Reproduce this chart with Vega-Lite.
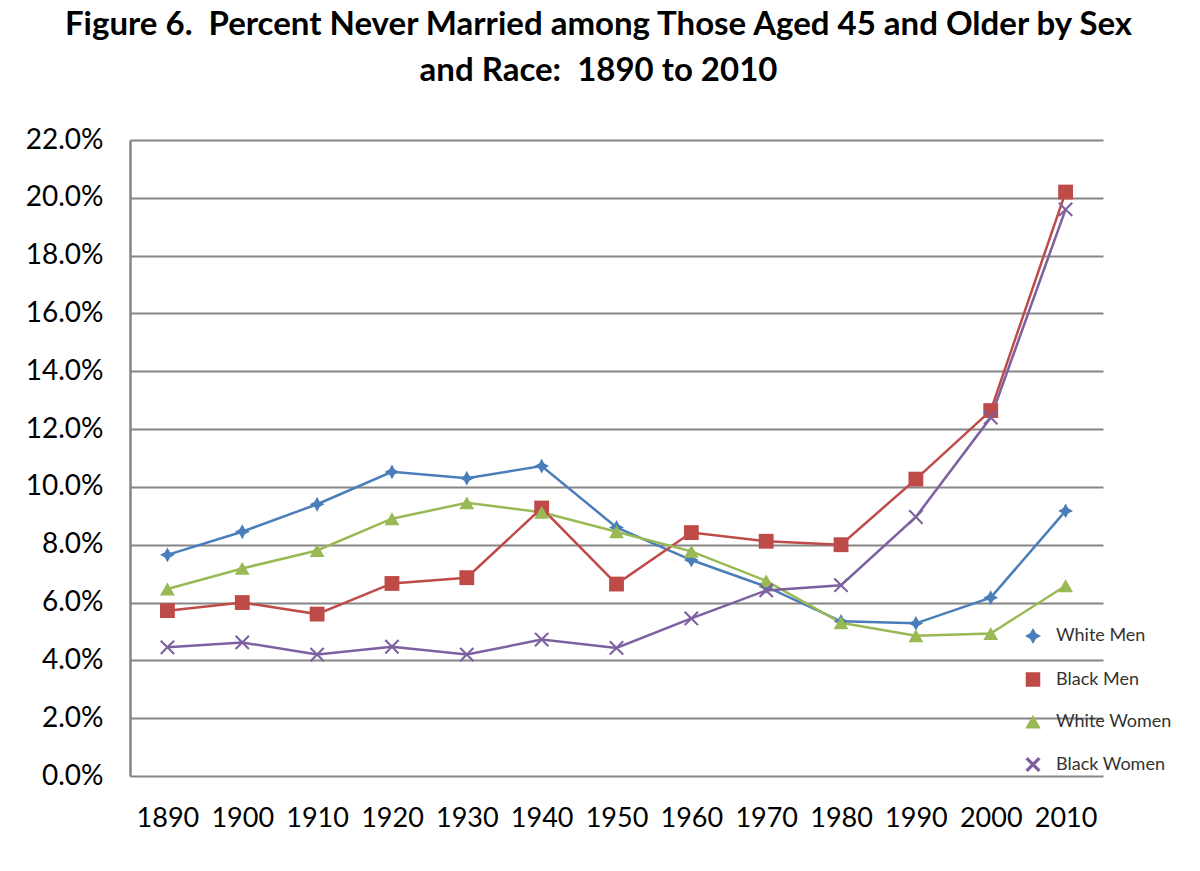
{
  "$schema": "https://vega.github.io/schema/vega-lite/v6.json",
  "width": 973,
  "height": 636,
  "autosize": {"type": "none"},
  "padding": {"left": 130, "top": 140, "right": 97, "bottom": 95},
  "background": "white",
  "title": {
    "text": ["Figure 6.\u00a0 Percent Never Married among Those Aged 45 and Older by Sex", "and Race:\u00a0 1890 to 2010"],
    "font": "Lato",
    "fontSize": 33,
    "fontWeight": "bold",
    "anchor": "middle",
    "dx": -18,
    "offset": 38,
    "lineHeight": 46,
    "color": "black"
  },
  "config": {"view": {"stroke": null}, "font": "Lato"},
  "data": {
    "values": [
      {"year": "1890", "series": "White Men", "value": 7.65},
      {"year": "1900", "series": "White Men", "value": 8.45},
      {"year": "1910", "series": "White Men", "value": 9.4},
      {"year": "1920", "series": "White Men", "value": 10.52},
      {"year": "1930", "series": "White Men", "value": 10.3},
      {"year": "1940", "series": "White Men", "value": 10.72},
      {"year": "1950", "series": "White Men", "value": 8.6},
      {"year": "1960", "series": "White Men", "value": 7.47},
      {"year": "1970", "series": "White Men", "value": 6.55},
      {"year": "1980", "series": "White Men", "value": 5.35},
      {"year": "1990", "series": "White Men", "value": 5.28},
      {"year": "2000", "series": "White Men", "value": 6.17},
      {"year": "2010", "series": "White Men", "value": 9.17},
      {"year": "1890", "series": "Black Men", "value": 5.72},
      {"year": "1900", "series": "Black Men", "value": 6.0},
      {"year": "1910", "series": "Black Men", "value": 5.6},
      {"year": "1920", "series": "Black Men", "value": 6.66},
      {"year": "1930", "series": "Black Men", "value": 6.86},
      {"year": "1940", "series": "Black Men", "value": 9.27},
      {"year": "1950", "series": "Black Men", "value": 6.64},
      {"year": "1960", "series": "Black Men", "value": 8.42},
      {"year": "1970", "series": "Black Men", "value": 8.12},
      {"year": "1980", "series": "Black Men", "value": 8.0},
      {"year": "1990", "series": "Black Men", "value": 10.27},
      {"year": "2000", "series": "Black Men", "value": 12.64},
      {"year": "2010", "series": "Black Men", "value": 20.2},
      {"year": "1890", "series": "White Women", "value": 6.47},
      {"year": "1900", "series": "White Women", "value": 7.18},
      {"year": "1910", "series": "White Women", "value": 7.8},
      {"year": "1920", "series": "White Women", "value": 8.9},
      {"year": "1930", "series": "White Women", "value": 9.45},
      {"year": "1940", "series": "White Women", "value": 9.12},
      {"year": "1950", "series": "White Women", "value": 8.45},
      {"year": "1960", "series": "White Women", "value": 7.77},
      {"year": "1970", "series": "White Women", "value": 6.75},
      {"year": "1980", "series": "White Women", "value": 5.3},
      {"year": "1990", "series": "White Women", "value": 4.85},
      {"year": "2000", "series": "White Women", "value": 4.93},
      {"year": "2010", "series": "White Women", "value": 6.58},
      {"year": "1890", "series": "Black Women", "value": 4.45},
      {"year": "1900", "series": "Black Women", "value": 4.62},
      {"year": "1910", "series": "Black Women", "value": 4.2},
      {"year": "1920", "series": "Black Women", "value": 4.47},
      {"year": "1930", "series": "Black Women", "value": 4.2},
      {"year": "1940", "series": "Black Women", "value": 4.72},
      {"year": "1950", "series": "Black Women", "value": 4.43},
      {"year": "1960", "series": "Black Women", "value": 5.45},
      {"year": "1970", "series": "Black Women", "value": 6.42},
      {"year": "1980", "series": "Black Women", "value": 6.6},
      {"year": "1990", "series": "Black Women", "value": 8.96},
      {"year": "2000", "series": "Black Women", "value": 12.4},
      {"year": "2010", "series": "Black Women", "value": 19.6}
    ]
  },
  "encoding": {
    "x": {
      "field": "year",
      "type": "ordinal",
      "scale": {"type": "point", "padding": 0.5},
      "axis": {
        "title": null,
        "labelAngle": 0,
        "domain": false,
        "ticks": false,
        "grid": false,
        "labelFont": "Lato",
        "labelFontSize": 27,
        "labelColor": "black",
        "labelPadding": 29
      }
    },
    "y": {
      "field": "value",
      "type": "quantitative",
      "scale": {"domain": [0, 22], "nice": false, "zero": true},
      "axis": {
        "title": null,
        "values": [0, 2, 4, 6, 8, 10, 12, 14, 16, 18, 20, 22],
        "labelExpr": "format(datum.value, '.1f') + '%'",
        "grid": true,
        "gridColor": "#868686",
        "gridWidth": 2,
        "domain": true,
        "domainColor": "#868686",
        "domainWidth": 2.5,
        "ticks": false,
        "labelFont": "Lato",
        "labelFontSize": 28,
        "labelColor": "black",
        "labelPadding": 27
      }
    },
    "color": {
      "field": "series",
      "type": "nominal",
      "scale": {
        "domain": ["White Men", "Black Men", "White Women", "Black Women"],
        "range": ["#4A7EBB", "#BE4B48", "#98B954", "#7D60A0"]
      },
      "legend": {
        "title": null,
        "orient": "none",
        "legendX": 894,
        "legendY": 487,
        "labelFontSize": 18,
        "labelColor": "#333333",
        "rowPadding": 23.5,
        "symbolSize": 170,
        "labelOffset": 14
      }
    }
  },
  "layer": [
    {"mark": {"type": "line", "interpolate": "linear", "strokeWidth": 2.5}},
    {
      "mark": {"type": "point", "filled": true, "opacity": 1, "size": 220},
      "encoding": {
        "shape": {
          "field": "series",
          "type": "nominal",
          "scale": {
            "domain": ["White Men", "Black Men", "White Women", "Black Women"],
            "range": [
              "M0,-1L0.35,-0.35L1,0L0.35,0.35L0,1L-0.35,0.35L-1,0L-0.35,-0.35Z",
              "square",
              "triangle-up",
              "M-1,-0.8L-0.8,-1L0,-0.2L0.8,-1L1,-0.8L0.2,0L1,0.8L0.8,1L0,0.2L-0.8,1L-1,0.8L-0.2,0Z"
            ]
          },
          "legend": {
            "title": null,
            "orient": "none",
            "legendX": 894,
            "legendY": 487,
            "labelFontSize": 18,
            "labelColor": "#333333",
            "rowPadding": 23.5,
            "symbolSize": 170,
            "labelOffset": 14
          }
        }
      }
    }
  ]
}
